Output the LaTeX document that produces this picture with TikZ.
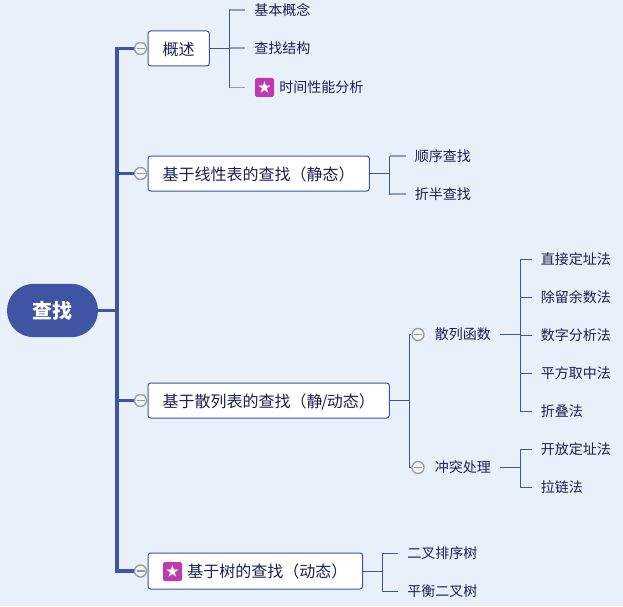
\documentclass[tikz,border=0pt]{standalone}
\usepackage{fontspec}
\setmainfont{Noto Sans CJK SC}
\definecolor{paper}{HTML}{E8F1F9}
\definecolor{branch}{HTML}{3F55A3}
\definecolor{ink}{HTML}{1A2050}
\definecolor{badge}{HTML}{BE3BAE}
\definecolor{knob}{HTML}{9A9A9A}
\tikzset{
  rootnode/.style={fill=branch,text=white,rounded corners=20pt,minimum width=68.25pt,minimum height=40pt,inner sep=0pt,font=\fontsize{15}{15}\selectfont\bfseries},
  topicbox/.style={draw=branch,fill=white,rounded corners=2pt,line width=0.75pt,minimum height=26.25pt,inner sep=0pt,anchor=west,text height=10pt,text depth=0pt,font=\fontsize{12}{12}\selectfont,text=ink},
  leaf/.style={anchor=west,inner xsep=6.75pt,inner ysep=0pt,minimum height=12pt,font=\fontsize{10.5}{10.5}\selectfont,text=ink},
  knobmark/.style={circle,draw=knob,fill=paper!70!white,line width=1pt,minimum size=9pt,inner sep=0pt,path picture={\draw[knob,line width=1.1pt] ([xshift=-3pt]path picture bounding box.center)--([xshift=3pt]path picture bounding box.center);}},
  trunk/.style={draw=branch,line width=2.6pt},
  twig/.style={draw=branch,line width=0.75pt},
  stub/.style={draw=branch!55!paper,line width=1.1pt},
  starmark/.style={fill=badge,rounded corners=1.2pt,minimum size=14.25pt,inner sep=0pt,text=white,font=\fontsize{10}{10}\selectfont},
}
\begin{document}
\begin{tikzpicture}[x=0.75pt,y=-0.75pt]
\fill[paper] (0,0) rectangle (623,606);
\useasboundingbox (0,0) rectangle (623,606);

% centre and main trunk
\node[rootnode] (root) at (52.5,310.5) {查找};
\coordinate (fork) at (117,310.5);
\coordinate (forkA) at (117,48.5);
\coordinate (forkB) at (117,173.5);
\coordinate (forkC) at (117,400.5);
\coordinate (forkD) at (117,571);

% first level
\node[topicbox,minimum width=46pt] (intro) at (147.5,48.5) {概述};
\node[topicbox,minimum width=166pt] (linear) at (147.5,173.5) {基于线性表的查找（静态）};
\node[topicbox,minimum width=181pt] (hash) at (147.5,400.5) {基于散列表的查找（静\kern-0.9pt/\kern-0.6pt动态）};
\node[topicbox,minimum width=161pt,minimum height=27pt,align=left] (tree) at (147.5,571) {\hspace{18pt}基于树的查找（动态）};

\node[knobmark] (knobA) at (140.5,48.5) {};
\node[knobmark] (knobB) at (140.5,173.5) {};
\node[knobmark] (knobC) at (140.5,400.5) {};
\node[knobmark] (knobD) at (140.5,571) {};

\draw[trunk] (root.east) -- (fork);
\draw[trunk] (knobA.west) -- (forkA) -- (forkD) -- (knobD.west);
\draw[trunk,line width=2pt] (forkB) -- (knobB.west);
\draw[trunk,line width=2pt] (forkC) -- (knobC.west);

% leaves of the first topic
\coordinate (introfork) at (229.5,48.5);
\node[leaf] (basic) at (245,10) {基本概念};
\node[leaf] (struct) at (245,48) {查找结构};
\node[leaf,inner xsep=0pt] (perf) at (279,87.5) {时间性能分析};
\node[starmark] (perfstar) at (264.5,87.5) {★};
\coordinate (perfend) at (245,87.5);
\foreach \leafname in {basic,struct,perfend}{
  \draw[twig] (intro.east) -- (introfork) |- (\leafname);
  \draw[stub] (introfork |- \leafname) -- (\leafname);
}

% second topic
\coordinate (linearfork) at (389.5,173.5);
\node[leaf] (seq) at (405.5,156) {顺序查找};
\node[leaf] (half) at (405.5,194) {折半查找};
\foreach \leafname in {seq,half}{
  \draw[twig] (linear.east) -- (linearfork) |- (\leafname.west);
  \draw[stub] (linearfork |- \leafname.west) -- (\leafname.west);
}

% third topic
\coordinate (hashfork) at (409.5,400.5);
\node[leaf] (hashfn) at (425.5,334.5) {散列函数};
\node[leaf] (clash) at (425.5,467.5) {冲突处理};
\node[knobmark] (knobE) at (418,334.5) {};
\node[knobmark] (knobF) at (418,467.5) {};
\draw[twig] (hash.east) -- (hashfork) |- (knobE.west);
\draw[twig] (hash.east) -- (hashfork) |- (knobF.west);

\coordinate (hashfnfork) at (520.5,334.5);
\node[leaf] (direct) at (531.5,259) {直接定址法};
\node[leaf] (modulo) at (531.5,297) {除留余数法};
\node[leaf] (digit) at (531.5,335) {数字分析法};
\node[leaf] (square) at (531.5,373) {平方取中法};
\node[leaf] (fold) at (531.5,411) {折叠法};
\foreach \leafname in {direct,modulo,digit,square,fold}
  \draw[twig] (hashfn.east) -- (hashfnfork) |- (\leafname.west);

\coordinate (clashfork) at (520.5,467.5);
\node[leaf] (open) at (531.5,449) {开放定址法};
\node[leaf] (chain) at (531.5,487) {拉链法};
\foreach \leafname in {open,chain}
  \draw[twig] (clash.east) -- (clashfork) |- (\leafname.west);

% fourth topic
\coordinate (treefork) at (382.5,571);
\node[starmark] (treestar) at (172.5,571.5) {★};
\node[leaf] (bst) at (398,553) {二叉排序树};
\node[leaf] (avl) at (398,591) {平衡二叉树};
\foreach \leafname in {bst,avl}
  \draw[twig] (tree.east) -- (treefork) |- (\leafname.west);
\end{tikzpicture}
\end{document}
